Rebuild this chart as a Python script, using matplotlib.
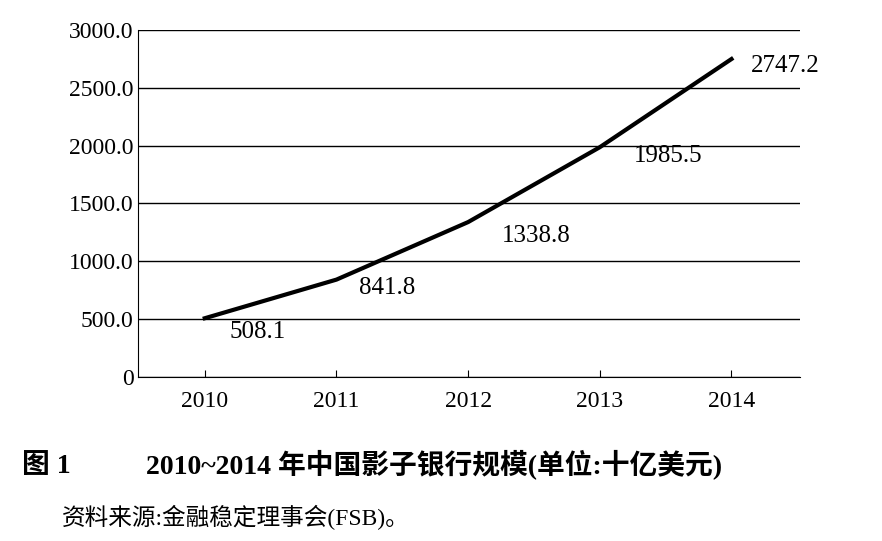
import matplotlib.pyplot as plt

plt.rcParams['font.family'] = ['Liberation Serif', 'Noto Sans CJK SC']

years = ['2010', '2011', '2012', '2013', '2014']
scale = [508.1, 841.8, 1338.8, 1985.5, 2747.2]
yticks = [0, 500, 1000, 1500, 2000, 2500, 3000]
ytick_labels = ['0', '500.0', '1000.0', '1500.0', '2000.0', '2500.0', '3000.0']
# label offsets in pixels
offsets = [(53, -14), (51, -8), (68, -14), (68, -9), (54, -7)]

fig = plt.figure(figsize=(8.82, 5.41), dpi=100)
ax = fig.add_axes([0.156, 0.303, 0.751, 0.642])

x = list(range(len(years)))
ax.plot(x, scale, color='black', linewidth=3)
for xi, v, (dx, dy) in zip(x, scale, offsets):
    ax.annotate(f'{v:.1f}', (xi, v), xytext=(dx, dy), textcoords='offset pixels',
                ha='center', va='center', fontsize=18)

ax.set_xlim(-0.51, 4.52)
ax.set_ylim(0, 3000)
ax.set_xticks(x)
ax.set_xticklabels(years, fontsize=17)
ax.set_yticks(yticks)
ax.set_yticklabels(ytick_labels, fontsize=17)
ax.yaxis.grid(True, color='black', linewidth=1)
ax.set_axisbelow(True)
for s in ['top', 'right']:
    ax.spines[s].set_visible(False)
ax.tick_params(axis='x', length=5, direction='in', pad=10)
ax.tick_params(axis='y', length=0, pad=3)

fig.text(0.025, 0.125, '图 1', fontsize=20, fontweight='bold')
fig.text(0.165, 0.125, '2010~2014 年中国影子银行规模(单位:十亿美元)', fontsize=20, fontweight='bold')
fig.text(0.07, 0.03, '资料来源:金融稳定理事会(FSB)。', fontsize=17)

fig.savefig('out.png', dpi=100)
